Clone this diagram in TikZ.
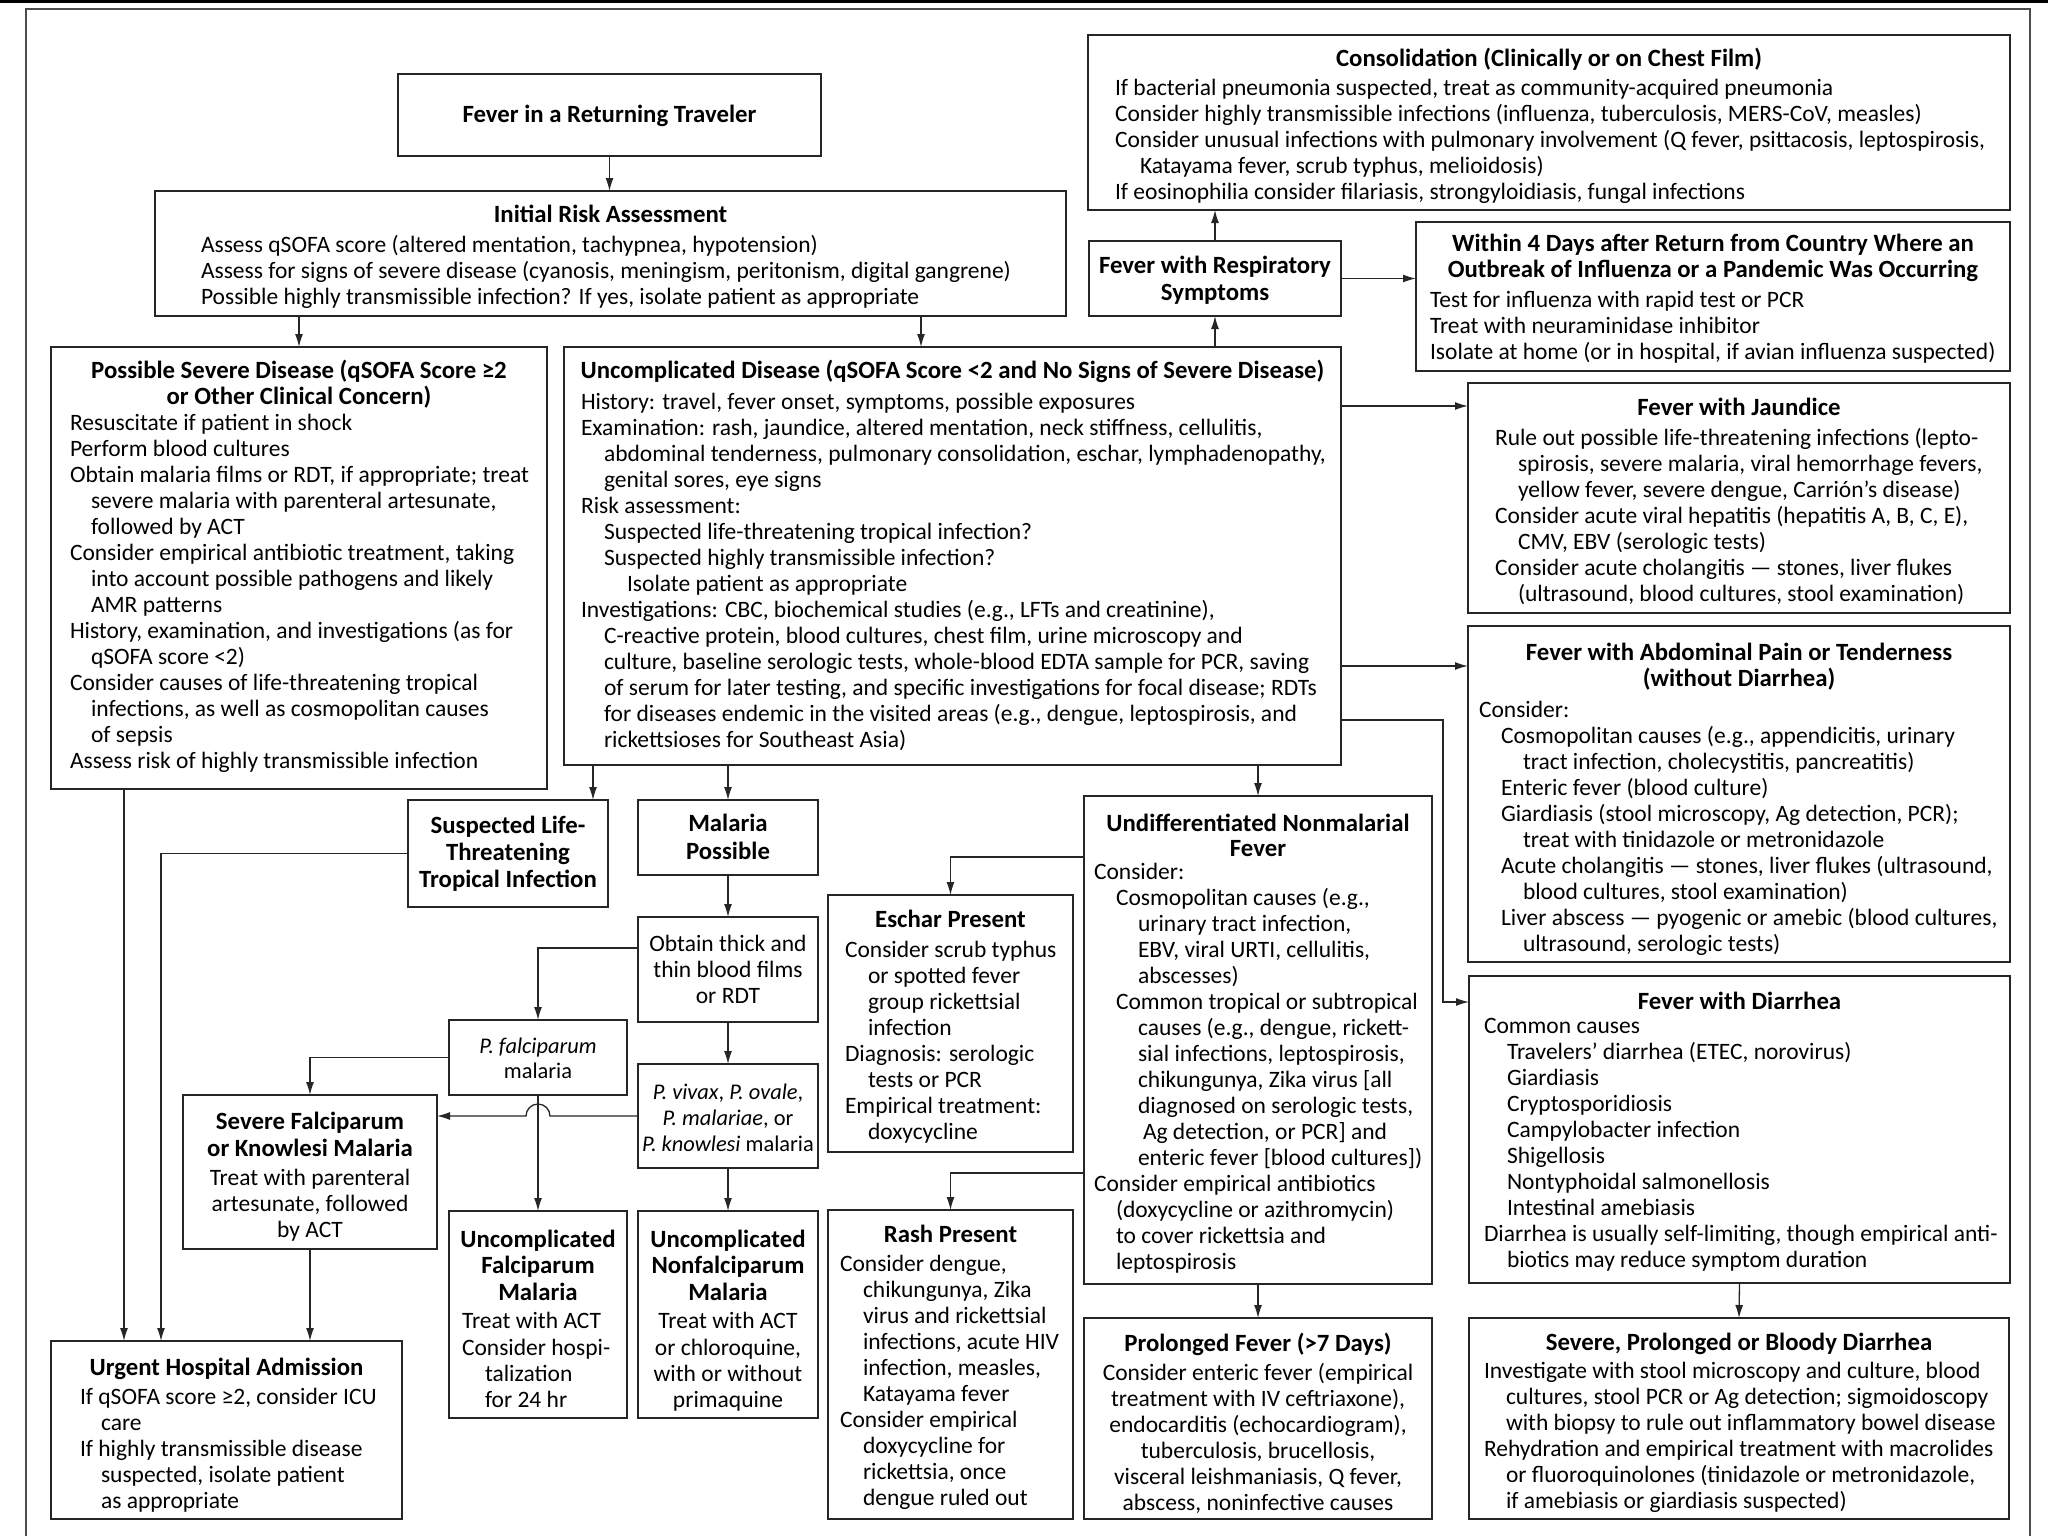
\documentclass[tikz,border=0pt]{standalone}
\usepackage{fontspec}
\setmainfont{Carlito}
\usetikzlibrary{arrows.meta,calc}
\newdimen\lmarg \newdimen\imarg
\newcommand\Marg[2]{\lmarg=#1\relax\imarg=#2\relax}
\newcommand\mystrut{\vrule width0pt height18pt depth8pt\relax}
\newcommand\Aline[1]{\hbox{\hskip\lmarg\mystrut#1}}
\newcommand\Bline[1]{\hbox{\hskip\dimexpr\lmarg+\imarg\relax\mystrut#1}}
\newcommand\Dline[1]{\hbox{\hskip\dimexpr\lmarg+2\imarg\relax\mystrut#1}}
\newcommand\Tline[1]{\hbox to\hsize{\hss\mystrut\fontsize{24.8pt}{26pt}\selectfont\bfseries#1\hss}}
\newcommand\Cline[1]{\hbox to\hsize{\hss\mystrut#1\hss}}
\newcommand\Gap[1]{\vskip#1\relax}
\newcommand\Bx[4]{\vbox to #2{\hsize=#1\relax\parindent=0pt\baselineskip=26pt\lineskiplimit=-100pt\lineskip=0pt\vskip\dimexpr#3+2pt\relax #4\vss}}
\begin{document}
\begin{tikzpicture}[x=1pt,y=-1pt,
  box/.style={draw=black!85,line width=1.6pt,inner sep=0pt,outer sep=0pt,anchor=north west,rectangle,
    font=\fontsize{23.5pt}{26pt}\selectfont},
  smallbox/.style={box,font=\fontsize{22.4pt}{26pt}\selectfont},
  conn/.style={draw=black!85,line width=1.3pt},
  arr/.style={conn,-{Latex[length=13pt,width=8pt]}}]
\useasboundingbox (0,0) rectangle (2048,1536);
\fill[white] (0,0) rectangle (2048,1536);
\draw[black,line width=3pt] (0,1.5) -- (2048,1.5);
\draw[black!70,line width=2pt] (26,1540) -- (26,9) -- (2030,9) -- (2030,1540);

% ---------- boxes ----------
\node[box] (fever) at (398,74) {\Bx{423pt}{82pt}{29pt}{\Tline{Fever in a Returning Traveler}}};

\node[box] (init) at (155,191) {\Bx{911pt}{125pt}{11pt}{\Marg{46pt}{0pt}%
\Tline{Initial Risk Assessment}\Gap{4pt}%
\Aline{Assess qSOFA score (altered mentation, tachypnea, hypotension)}%
\Aline{Assess for signs of severe disease (cyanosis, meningism, peritonism, digital gangrene)}%
\Aline{Possible highly transmissible infection? If yes, isolate patient as appropriate}}};

\node[box] (sev) at (51,347) {\Bx{496pt}{442pt}{11pt}{\Marg{19pt}{21pt}%
\Tline{Possible Severe Disease (qSOFA Score ≥2}%
\Tline{or Other Clinical Concern)}%
\Aline{Resuscitate if patient in shock}%
\Aline{Perform blood cultures}%
\Aline{Obtain malaria films or RDT, if appropriate; treat}%
\Bline{severe malaria with parenteral artesunate,}%
\Bline{followed by ACT}%
\Aline{Consider empirical antibiotic treatment, taking}%
\Bline{into account possible pathogens and likely}%
\Bline{AMR patterns}%
\Aline{History, examination, and investigations (as for}%
\Bline{qSOFA score <2)}%
\Aline{Consider causes of life-threatening tropical}%
\Bline{infections, as well as cosmopolitan causes}%
\Bline{of sepsis}%
\Aline{Assess risk of highly transmissible infection}}};

\node[box] (unc) at (564,347) {\Bx{777pt}{418pt}{11pt}{\Marg{17pt}{23pt}%
\Tline{Uncomplicated Disease (qSOFA Score <2 and No Signs of Severe Disease)}\Gap{5pt}%
\Aline{History: travel, fever onset, symptoms, possible exposures}%
\Aline{Examination: rash, jaundice, altered mentation, neck stiffness, cellulitis,}%
\Bline{abdominal tenderness, pulmonary consolidation, eschar, lymphadenopathy,}%
\Bline{genital sores, eye signs}%
\Aline{Risk assessment:}%
\Bline{Suspected life-threatening tropical infection?}%
\Bline{Suspected highly transmissible infection?}%
\Dline{Isolate patient as appropriate}%
\Aline{Investigations: CBC, biochemical studies (e.g., LFTs and creatinine),}%
\Bline{C-reactive protein, blood cultures, chest film, urine microscopy and}%
\Bline{culture, baseline serologic tests, whole-blood EDTA sample for PCR, saving}%
\Bline{of serum for later testing, and specific investigations for focal disease; RDTs}%
\Bline{for diseases endemic in the visited areas (e.g., dengue, leptospirosis, and}%
\Bline{rickettsioses for Southeast Asia)}}};

\node[box] (cons) at (1088,35) {\Bx{922pt}{175pt}{11pt}{\Marg{27pt}{25pt}%
\Tline{Consolidation (Clinically or on Chest Film)}\Gap{3pt}%
\Aline{If bacterial pneumonia suspected, treat as community-acquired pneumonia}%
\Aline{Consider highly transmissible infections (influenza, tuberculosis, MERS-CoV, measles)}%
\Aline{Consider unusual infections with pulmonary involvement (Q fever, psittacosis, leptospirosis,}%
\Bline{Katayama fever, scrub typhus, melioidosis)}%
\Aline{If eosinophilia consider filariasis, strongyloidiasis, fungal infections}}};

\node[box] (resp) at (1089,241) {\Bx{252pt}{75pt}{12pt}{%
\Tline{Fever with Respiratory}\Gap{1pt}\Tline{Symptoms}}};

\node[box] (within) at (1416,222) {\Bx{594pt}{149pt}{9pt}{\Marg{14pt}{0pt}%
\Tline{Within 4 Days after Return from Country Where an}%
\Tline{Outbreak of Influenza or a Pandemic Was Occurring}\Gap{4pt}%
\Aline{Test for influenza with rapid test or PCR}%
\Aline{Treat with neuraminidase inhibitor}%
\Aline{Isolate at home (or in hospital, if avian influenza suspected)}}};

\node[box] (jaund) at (1468,383) {\Bx{542pt}{230pt}{12pt}{\Marg{27pt}{23pt}%
\Tline{Fever with Jaundice}\Gap{4pt}%
\Aline{Rule out possible life-threatening infections (lepto-}%
\Bline{spirosis, severe malaria, viral hemorrhage fevers,}%
\Bline{yellow fever, severe dengue, Carrión’s disease)}%
\Aline{Consider acute viral hepatitis (hepatitis A, B, C, E),}%
\Bline{CMV, EBV (serologic tests)}%
\Aline{Consider acute cholangitis — stones, liver flukes}%
\Bline{(ultrasound, blood cultures, stool examination)}}};

\node[box] (abd) at (1468,626) {\Bx{542pt}{336pt}{14pt}{\Marg{11pt}{22pt}%
\Tline{Fever with Abdominal Pain or Tenderness}%
\Tline{(without Diarrhea)}\Gap{5pt}%
\Aline{Consider:}%
\Bline{Cosmopolitan causes (e.g., appendicitis, urinary}%
\Dline{tract infection, cholecystitis, pancreatitis)}%
\Bline{Enteric fever (blood culture)}%
\Bline{Giardiasis (stool microscopy, Ag detection, PCR);}%
\Dline{treat with tinidazole or metronidazole}%
\Bline{Acute cholangitis — stones, liver flukes (ultrasound,}%
\Dline{blood cultures, stool examination)}%
\Bline{Liver abscess — pyogenic or amebic (blood cultures,}%
\Dline{ultrasound, serologic tests)}}};

\node[box] (diar) at (1469,976) {\Bx{541pt}{307pt}{13pt}{\Marg{15pt}{23pt}%
\Tline{Fever with Diarrhea}\Gap{-2pt}%
\Aline{Common causes}%
\Bline{Travelers’ diarrhea (ETEC, norovirus)}%
\Bline{Giardiasis}%
\Bline{Cryptosporidiosis}%
\Bline{Campylobacter infection}%
\Bline{Shigellosis}%
\Bline{Nontyphoidal salmonellosis}%
\Bline{Intestinal amebiasis}%
\Aline{Diarrhea is usually self-limiting, though empirical anti-}%
\Bline{biotics may reduce symptom duration}}};

\node[box] (sevdiar) at (1469,1318) {\Bx{540pt}{201pt}{12pt}{\Marg{15pt}{22pt}%
\Tline{Severe, Prolonged or Bloody Diarrhea}\Gap{2pt}%
\Aline{Investigate with stool microscopy and culture, blood}%
\Bline{cultures, stool PCR or Ag detection; sigmoidoscopy}%
\Bline{with biopsy to rule out inflammatory bowel disease}%
\Aline{Rehydration and empirical treatment with macrolides}%
\Bline{or fluoroquinolones (tinidazole or metronidazole,}%
\Bline{if amebiasis or giardiasis suspected)}}};

\node[box] (prolong) at (1084,1318) {\Bx{348pt}{201pt}{13pt}{%
\Tline{Prolonged Fever (>7 Days)}\Gap{3pt}%
\Cline{Consider enteric fever (empirical}%
\Cline{treatment with IV ceftriaxone),}%
\Cline{endocarditis (echocardiogram),}%
\Cline{tuberculosis, brucellosis,}%
\Cline{visceral leishmaniasis, Q fever,}%
\Cline{abscess, noninfective causes}}};

\node[box] (undiff) at (1084,796) {\Bx{348pt}{488pt}{15pt}{\Marg{10pt}{22pt}%
\Tline{Undifferentiated Nonmalarial}\Gap{-1pt}%
\Tline{Fever}\Gap{-3pt}%
\Aline{Consider:}%
\Bline{Cosmopolitan causes (e.g.,}%
\Dline{urinary tract infection,}%
\Dline{EBV, viral URTI, cellulitis,}%
\Dline{abscesses)}%
\Bline{Common tropical or subtropical}%
\Dline{causes (e.g., dengue, rickett-}%
\Dline{sial infections, leptospirosis,}%
\Dline{chikungunya, Zika virus [all}%
\Dline{diagnosed on serologic tests,}%
\Dline{\hskip5pt Ag detection, or PCR] and}%
\Dline{enteric fever [blood cultures])}%
\Aline{Consider empirical antibiotics}%
\Bline{(doxycycline or azithromycin)}%
\Bline{to cover rickettsia and}%
\Bline{leptospirosis}}};

\node[box] (eschar) at (828,895) {\Bx{245pt}{257pt}{12pt}{\Marg{17pt}{23pt}%
\Tline{Eschar Present}\Gap{4pt}%
\Aline{Consider scrub typhus}%
\Bline{or spotted fever}%
\Bline{group rickettsial}%
\Bline{infection}%
\Aline{Diagnosis: serologic}%
\Bline{tests or PCR}%
\Aline{Empirical treatment:}%
\Bline{doxycycline}}};

\node[box] (rash) at (828,1210) {\Bx{245pt}{309pt}{12pt}{\Marg{12pt}{23pt}%
\Tline{Rash Present}\Gap{3pt}%
\Aline{Consider dengue,}%
\Bline{chikungunya, Zika}%
\Bline{virus and rickettsial}%
\Bline{infections, acute HIV}%
\Bline{infection, measles,}%
\Bline{Katayama fever}%
\Aline{Consider empirical}%
\Bline{doxycycline for}%
\Bline{rickettsia, once}%
\Bline{dengue ruled out}}};

\node[box] (suspect) at (408,800) {\Bx{200pt}{107pt}{13pt}{%
\Tline{Suspected Life-}\Gap{1pt}\Tline{Threatening}\Gap{1pt}\Tline{Tropical Infection}}};

\node[box] (malaria) at (638,800) {\Bx{180pt}{75pt}{11pt}{%
\Tline{Malaria}\Gap{2pt}\Tline{Possible}}};

\node[box] (obtain) at (638,917) {\Bx{180pt}{105pt}{14pt}{%
\Cline{Obtain thick and}\Cline{thin blood films}\Cline{or RDT}}};

\node[smallbox] (pfalc) at (449,1020) {\Bx{178pt}{75pt}{13pt}{%
\Cline{\itshape P. falciparum}\Gap{-1pt}\Cline{malaria}}};

\node[smallbox] (pviv) at (638,1064) {\Bx{180pt}{104pt}{15pt}{%
\Cline{\textit{P. vivax}, \textit{P. ovale},}%
\Cline{\textit{P. malariae}, or}%
\Cline{\textit{P. knowlesi} malaria}}};

\node[box] (sevfalc) at (183,1095) {\Bx{254pt}{154pt}{14pt}{%
\Tline{Severe Falciparum}\Gap{1pt}%
\Tline{or Knowlesi Malaria}\Gap{3pt}%
\Cline{Treat with parenteral}%
\Cline{artesunate, followed}%
\Cline{by ACT}}};

\node[box] (uncfalc) at (449,1211) {\Bx{178pt}{207pt}{16pt}{\Marg{13pt}{23pt}%
\Tline{Uncomplicated}\Gap{0.5pt}%
\Tline{Falciparum}\Gap{1pt}%
\Tline{Malaria}\Gap{2pt}%
\Aline{Treat with ACT}\Gap{1pt}%
\Aline{Consider hospi-}%
\Bline{talization}%
\Bline{for 24 hr}}};

\node[box] (uncnonf) at (638,1211) {\Bx{180pt}{207pt}{16pt}{%
\Tline{Uncomplicated}\Gap{0.5pt}%
\Tline{Nonfalciparum}\Gap{1pt}%
\Tline{Malaria}\Gap{2pt}%
\Cline{Treat with ACT}\Gap{1pt}%
\Cline{or chloroquine,}%
\Cline{with or without}%
\Cline{primaquine}}};

\node[box] (urgent) at (51,1341) {\Bx{351pt}{178pt}{14pt}{\Marg{29pt}{21pt}%
\Tline{Urgent Hospital Admission}\Gap{3pt}%
\Aline{If qSOFA score ≥2, consider ICU}%
\Bline{care}%
\Aline{If highly transmissible disease}%
\Bline{suspected, isolate patient}%
\Bline{as appropriate}}};

% ---------- connectors ----------
\draw[arr] (fever.south) -- (fever.south |- init.north);
\draw[arr] (init.south -| sev.north) -- (sev.north);
\coordinate (uncA) at ([xshift=-31.5pt]unc.north);
\draw[arr] (init.south -| uncA) -- (uncA);
\draw[arr] (unc.north -| resp.south) -- (resp.south);
\draw[arr] (resp.north) -- (resp.north |- cons.south);
\draw[arr] (resp.east) -- (resp.east -| within.west);
\coordinate (uJ) at ([yshift=-59pt]unc.north east);
\draw[arr] (uJ) -- (uJ -| jaund.west);
\coordinate (uA) at ([yshift=-319pt]unc.north east);
\draw[arr] (uA) -- (uA -| abd.west);
\coordinate (uD) at ([yshift=-373pt]unc.north east);
\coordinate (dD) at ([yshift=-26pt]diar.north west);
\coordinate (dDx) at ([xshift=-26pt]dD);
\draw[arr] (uD) -| (dDx) -- (dD);
\draw[arr] (unc.south -| undiff.north) -- (undiff.north);
\coordinate (sIn) at ([xshift=-15pt]suspect.north east);
\draw[arr] (unc.south -| sIn) -- (sIn);
\draw[arr] (unc.south -| malaria.north) -- (malaria.north);
\coordinate (sv) at ([xshift=73pt]sev.south west);
\draw[arr] (sv) -- (sv |- urgent.north);
\coordinate (uS) at ([xshift=110pt]urgent.north west);
\draw[arr] (suspect.west) -| (uS);
\draw[arr] (malaria.south) -- (obtain.north);
\coordinate (oW) at ([yshift=-31pt]obtain.north west);
\draw[arr] (oW) -| (pfalc.north);
\draw[arr] (obtain.south) -- (pviv.north);
\draw[arr] (pfalc.west) -| (sevfalc.north);
\draw[arr] (pviv.west) -- ($(pviv.west -| pfalc.south)+(12,0)$) arc[start angle=0,end angle=180,radius=12pt] -- (pviv.west -| sevfalc.east);
\draw[arr] (pfalc.south) -- (uncfalc.north);
\draw[arr] (pviv.south) -- (uncnonf.north);
\draw[arr] (sevfalc.south) -- (sevfalc.south |- urgent.north);
\coordinate (ue) at ([yshift=-61pt]undiff.north west);
\draw[arr] (ue) -| (eschar.north);
\coordinate (ur) at ([yshift=-377pt]undiff.north west);
\draw[arr] (ur) -| (rash.north);
\draw[arr] (undiff.south) -- (prolong.north);
\draw[arr] (diar.south) -- (sevdiar.north);
\end{tikzpicture}
\end{document}
